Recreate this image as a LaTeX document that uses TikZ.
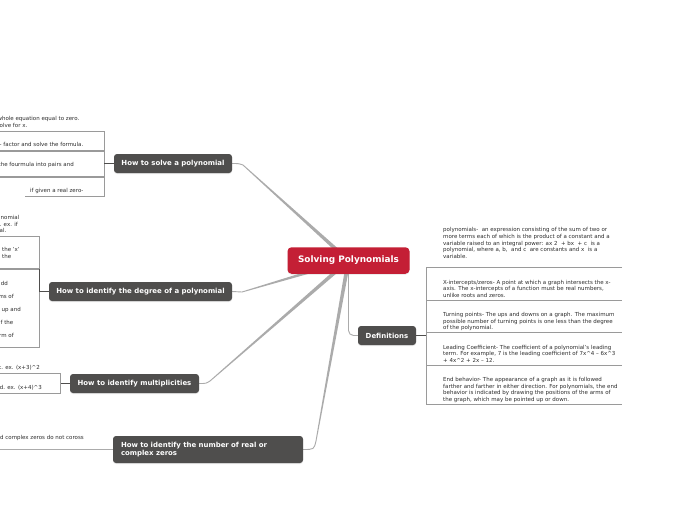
\documentclass[tikz,border=0pt]{standalone}
\usepackage{fontspec}
\setmainfont{DejaVu Sans}
\usetikzlibrary{calc,shadows,backgrounds}
\definecolor{rootred}{HTML}{C41F35}
\definecolor{topicgrey}{HTML}{4F4E4D}
\definecolor{linkgrey}{HTML}{ABABAB}
\definecolor{rulegrey}{HTML}{9A9A9A}
\definecolor{textgrey}{HTML}{2E2E2E}
\tikzset{
  topic/.style={fill=topicgrey,rounded corners=3pt,text=white,inner sep=0pt,
    font=\fontsize{6.95}{9}\selectfont\bfseries,
    drop shadow={opacity=.18,shadow xshift=0pt,shadow yshift=-1pt}},
  rootnode/.style={fill=rootred,rounded corners=4pt,text=white,inner sep=0pt,
    font=\fontsize{8.9}{10}\selectfont\bfseries,
    drop shadow={opacity=.15,shadow xshift=0pt,shadow yshift=-1pt}},
  leaf/.style={text=textgrey,inner sep=0pt,font=\fontsize{5.5}{6.55}\selectfont},
  leafl/.style={leaf,anchor=north west,align=left},
  leafr/.style={leaf,anchor=north east,align=right},
  rulel/.style={rulegrey,line width=.9pt},
  stem/.style={topicgrey,line width=1.2pt},
  linkthin/.style={linkgrey,line width=.9pt},
  linkfill/.style={fill=linkgrey}
}
\begin{document}
\begin{tikzpicture}[x=1pt,y=-1pt]
\useasboundingbox (0,0) rectangle (697,520);
\clip (0,0) rectangle (697,520);

% main nodes
\node[rootnode,minimum width=122pt,minimum height=26.5pt] (root) at (348.5,260.5) {Solving Polynomials};
\node[topic,minimum width=118pt,minimum height=19pt] (solve) at (173,163.5) {How to solve a polynomial};
\node[topic,minimum width=183pt,minimum height=19pt] (degree) at (140.5,291.5) {How to identify the degree of a polynomial};
\node[topic,minimum width=129pt,minimum height=19pt] (mult) at (134.5,383.5) {How to identify multiplicities};
\node[topic,minimum width=190pt,minimum height=27pt,text width=174pt,align=left] (zeros) at (208,449.5) {How to identify the number of real or\\[-.4pt]complex zeros};
\node[topic,minimum width=58pt,minimum height=19pt] (defs) at (387,335.5) {Definitions};

% bend points
\coordinate (bsolve) at (243,165);
\coordinate (bdegree) at (242,292);
\coordinate (bmult) at (210,381);
\coordinate (bzeros) at (316,441);

\begin{scope}[on background layer]
\fill[white] (0,0) rectangle (697,520);
\fill[linkfill] ($(root.center)!2pt!90:(bsolve)$) -- ($(bsolve)!.45pt!-90:(root.center)$) -- ($(bsolve)!.45pt!90:(root.center)$) -- ($(root.center)!2pt!-90:(bsolve)$) -- cycle;
\fill[linkfill] ($(root.center)!2pt!90:(bdegree)$) -- ($(bdegree)!.45pt!-90:(root.center)$) -- ($(bdegree)!.45pt!90:(root.center)$) -- ($(root.center)!2pt!-90:(bdegree)$) -- cycle;
\fill[linkfill] ($(root.center)!2pt!90:(bmult)$) -- ($(bmult)!.45pt!-90:(root.center)$) -- ($(bmult)!.45pt!90:(root.center)$) -- ($(root.center)!2pt!-90:(bmult)$) -- cycle;
\fill[linkfill] ($(root.center)!2pt!90:(bzeros)$) -- ($(bzeros)!.45pt!-90:(root.center)$) -- ($(bzeros)!.45pt!90:(root.center)$) -- ($(root.center)!2pt!-90:(bzeros)$) -- cycle;
\draw[linkthin] (bsolve) .. controls (238.5,163.5) .. (solve.east);
\draw[linkthin] (bdegree) .. controls (238,291.7) .. (degree.east);
\draw[linkthin] (bmult) .. controls (206,383.5) .. (mult.east);
\draw[linkthin] (bzeros) .. controls (314,449.5) .. (zeros.east);
\draw[linkthin,rounded corners=5pt] (root.center) -- (348.5,335.5) -- (defs.west);
\end{scope}

% solve bracket
\coordinate (sa) at (104,131.5); \coordinate (sb) at (104,151); \coordinate (sc) at (104,177); \coordinate (sd) at (104,196.5);
\coordinate (sj) at (104,163.5);
\draw[rulel] (0,131.5) -- (sa) -- (sd) -- (25,196.5);
\draw[rulel,line width=1.1pt] (0,151) -- (sb);
\draw[rulel,line width=1.1pt] (0,177) -- (sc);
\draw[stem] (solve.west) -- (sj);
\node[leafr] (s1) at (79.5,116.4) {whole equation equal to zero.};
\node[leafr] (s1b) at (27.5,123) {olve for x.};
\node[leafr] (s2) at (83.5,142.2) {- factor and solve the formula.};
\node[leafr] (s3) at (74,162.2) {the fourmula into pairs and};
\node[leafl] (s4) at (30,188.4) {if given a real zero-};

% degree bracket
\coordinate (da) at (39,236.5); \coordinate (db) at (39,269); \coordinate (dc) at (39,347); \coordinate (dj) at (39,291.5);
\draw[rulel] (0,236.5) -- (da) -- (dc) -- (0,347);
\draw[rulel,line width=1.1pt] (0,269) -- (db);
\draw[stem] (degree.west) -- (dj);
\draw[topicgrey,line width=.8pt] (db) -- (dj);
\node[leafr] (d1) at (19.5,215.4) {nomial};
\node[leafr] (d1b) at (18,221.9) {. ex. if};
\node[leafr] (d1c) at (6.5,228.4) {al.};
\node[leafl] (d2) at (2,247.4) {the 'x'\\the};
\node[leafr] (d3) at (8,280.7) {dd};
\node[leafr] (d4) at (14,293.7) {ms of};
\node[leafr] (d5) at (21,306.7) {up and};
\node[leafr] (d6) at (13.5,319.7) {f the};
\node[leafr] (d7) at (14,332.7) {rm of};

% multiplicity bracket
\coordinate (ma) at (60.5,373.5); \coordinate (mb) at (60.5,393); \coordinate (mj) at (60.5,383.5);
\draw[rulel] (0,373.5) -- (ma) -- (mb) -- (0,393);
\draw[stem] (mult.west) -- (mj);
\node[leafr] (m1) at (40,365.4) {t. ex. (x+3)\textasciicircum 2};
\node[leafr] (m2) at (42,385.4) {d. ex. (x+4)\textasciicircum 3};

% zeros leaf
\coordinate (zl) at (0,449.5);
\draw[linkgrey,line width=.9pt] (zeros.west) -- (zl);
\node[leafr] (z1) at (84,435.6) {d complex zeros do not coross};

% definitions bracket
\coordinate (fa) at (426,267.7); \coordinate (fb) at (426,404); \coordinate (fj) at (426,335.5);
\draw[rulel] (622,267.7) -- (fa) -- (fb) -- (622,404);
\draw[rulel] (426,300.5) -- (622,300.5);
\draw[rulel,line width=1.1pt] (426,332.7) -- (622,332.7);
\draw[rulel] (426,365) -- (622,365);
\draw[stem] (defs.east) -- (fj);
\node[leafl] (f1) at (443,227.6) {polynomials-\ \ an expression consisting of the sum of two or\\more terms each of which is the product of a constant and a\\variable raised to an integral power: ax 2\ \ + bx\ \ + c\ \ is a\\polynomial, where a, b,\ \ and c\ \ are constants and x\ \ is a\\variable.};
\node[leafl] (f2) at (443,279.7) {X-intercepts/zeros- A point at which a graph intersects the x-\\axis. The x-intercepts of a function must be real numbers,\\unlike roots and zeros.};
\node[leafl] (f3) at (443,312.2) {Turning points- The ups and downs on a graph. The maximum\\possible number of turning points is one less than the degree\\of the polynomial.};
\node[leafl] (f4) at (443,344.7) {Leading Coefficient- The coefficient of a polynomial's leading\\term. For example, 7 is the leading coefficient of 7x\textasciicircum 4 – 6x\textasciicircum 3\\+ 4x\textasciicircum 2 + 2x – 12.};
\node[leafl] (f5) at (443,377.2) {End behavior- The appearance of a graph as it is followed\\farther and farther in either direction. For polynomials, the end\\behavior is indicated by drawing the positions of the arms of\\the graph, which may be pointed up or down.};
\end{tikzpicture}
\end{document}
